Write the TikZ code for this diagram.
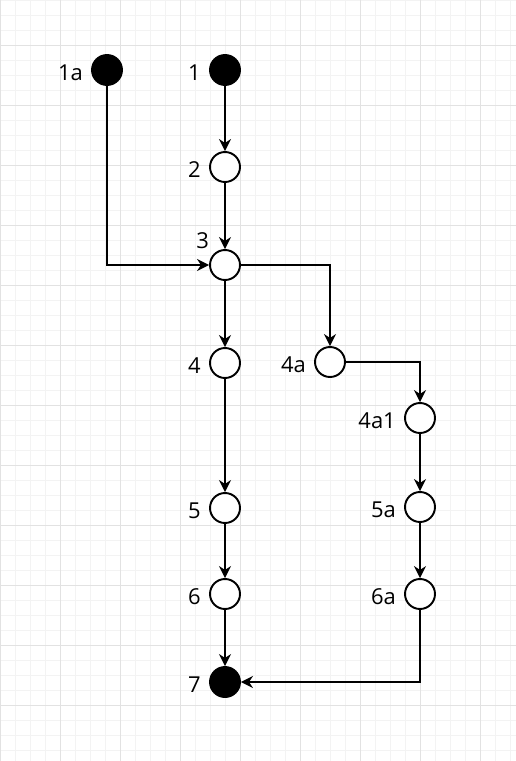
\documentclass[tikz,border=0pt]{standalone}
\usepackage{fontspec}
\setmainfont{Open Sans}
\usepackage{tikz}
\usetikzlibrary{positioning, arrows.meta}
\definecolor{gridminor}{RGB}{243, 243, 243}
\definecolor{gridmajor}{RGB}{226, 226, 226}

\begin{document}
\begin{tikzpicture}[x=0.02cm, y=-0.02cm, font=\fontsize{12.5}{15}\selectfont,
    state/.style={circle, draw, line width=1.1pt, fill=white, minimum size=0.6cm, inner sep=0pt},
    endstate/.style={state, fill=black},
    tag/.style={inner sep=2.5pt, yshift=-1.5pt},
    flow/.style={-{Stealth[length=6.8pt, width=6.8pt]}, line width=1.1pt}]
  \useasboundingbox (0,0) rectangle (516,761);
  % grid
  \foreach \x in {0,15,...,510} \draw[gridminor, line width=0.5pt] (\x,0) -- (\x,761);
  \foreach \y in {0,15,...,760} \draw[gridminor, line width=0.5pt] (0,\y) -- (516,\y);
  \foreach \x in {0,60,...,480} \draw[gridmajor, line width=0.5pt] (\x,0) -- (\x,761);
  \foreach \y in {45,105,...,705} \draw[gridmajor, line width=0.5pt] (0,\y) -- (516,\y);

  \node[endstate] (n1a) at (107, 70) {}; \node[tag, left=2pt] (t1a) at (n1a.west) {1a};
  \node[endstate] (n1) at (225, 70) {};  \node[tag, left=2pt] (t1) at (n1.west) {1};
  \node[state] (n2) at (225, 167) {};    \node[tag, left=2pt] (t2) at (n2.west) {2};
  \node[state] (n3) at (225, 265) {};    \node[inner sep=2.5pt, above left=0pt] (t3) at (n3.north west) {3};
  \node[state] (n4) at (225, 363) {};    \node[tag, left=2pt] (t4) at (n4.west) {4};
  \node[state] (n4a) at (330, 362) {};   \node[tag, left=2pt] (t4a) at (n4a.west) {4a};
  \node[state] (n4a1) at (420, 418) {};  \node[tag, left=2pt] (t4a1) at (n4a1.west) {4a1};
  \node[state] (n5) at (225, 508) {};    \node[tag, left=2pt] (t5) at (n5.west) {5};
  \node[state] (n5a) at (420, 507) {};   \node[tag, left=2pt] (t5a) at (n5a.west) {5a};
  \node[state] (n6) at (225, 594) {};    \node[tag, left=2pt] (t6) at (n6.west) {6};
  \node[state] (n6a) at (420, 594) {};   \node[tag, left=2pt] (t6a) at (n6a.west) {6a};
  \node[endstate] (n7) at (225, 682) {}; \node[tag, left=2pt] (t7) at (n7.west) {7};

  % main line
  \draw[flow] (n1) -- (n2);
  \draw[flow] (n2) -- (n3);
  \draw[flow] (n1a) |- (n3);
  \draw[flow] (n3) -- (n4);
  \draw[flow] (n4) -- (n5);
  \draw[flow] (n5) -- (n6);
  \draw[flow] (n6) -- (n7);
  % side branch
  \draw[flow] (n3) -| (n4a);
  \draw[flow] (n4a) -| (n4a1);
  \draw[flow] (n4a1) -- (n5a);
  \draw[flow] (n5a) -- (n6a);
  \draw[flow] (n6a) |- (n7);
\end{tikzpicture}
\end{document}
